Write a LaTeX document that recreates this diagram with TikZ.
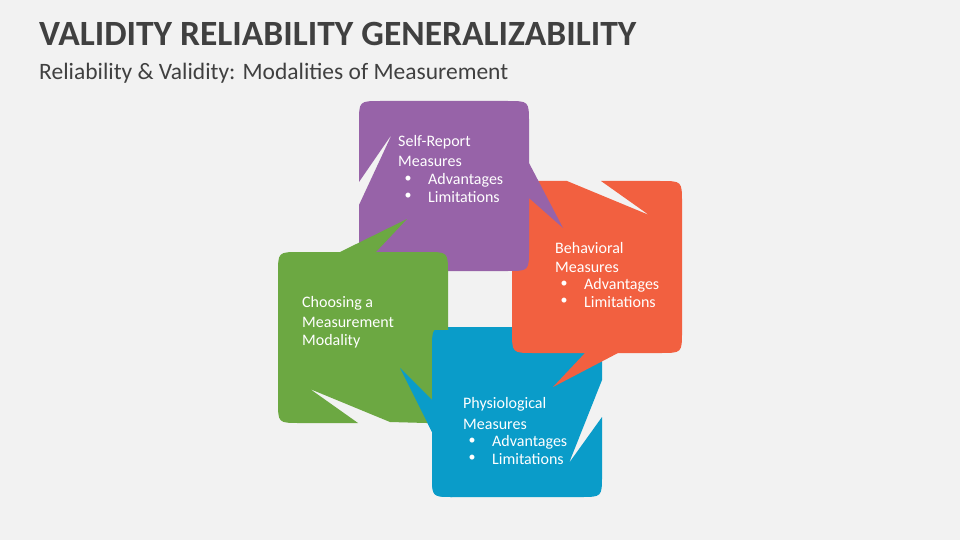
\documentclass[tikz,border=0pt]{standalone}
\usepackage{fontspec}
\setmainfont{Carlito}
\definecolor{bg}{HTML}{F2F2F2}
\definecolor{cpur}{HTML}{9763A8}
\definecolor{cora}{HTML}{F26040}
\definecolor{cgre}{HTML}{6CA842}
\definecolor{cblu}{HTML}{0A9CC9}
\definecolor{ctit}{HTML}{404040}
\begin{document}
\begin{tikzpicture}[x=1pt,y=-1pt,
  lbl/.style={anchor=west,text=white,font=\fontsize{16}{18}\selectfont,inner sep=0pt},
  bul/.style={anchor=center,text=white,font=\fontsize{14}{16}\selectfont,inner sep=0pt}]
\fill[bg] (0,0) rectangle (960,540);
\useasboundingbox (0,0) rectangle (960,540);
\node[anchor=west,text=ctit,font=\bfseries\fontsize{35.5}{38}\selectfont,inner sep=0pt] (title) at (39,34) {VALIDITY RELIABILITY GENERALIZABILITY};
\node[anchor=west,text=ctit,font=\fontsize{23.5}{26}\selectfont,inner sep=0pt] (sub) at (39,73) {Reliability \& Validity: Modalities of Measurement};
\def\bluepath{(432,349) .. controls (432,327) .. (454,327) -- (580,327) .. controls (602,327) .. (602,349) -- (602,380) -- (569,463) -- (602,417) -- (602,475) .. controls (602,497) .. (580,497) -- (454,497) .. controls (432,497) .. (432,475) -- (432,432) -- (400,368) -- (432,400) -- cycle}
\fill[cblu] \bluepath;
\fill[cora] (512,203) .. controls (512,181) .. (534,181) -- (567,181) -- (649,215) -- (601,181) -- (660,181) .. controls (682,181) .. (682,203) -- (682,331) .. controls (682,353) .. (660,353) -- (618,353) -- (553,387) -- (585,353) -- (534,353) .. controls (512,353) .. (512,331) -- cycle;
\fill[cpur] (359,123) .. controls (359,101) .. (381,101) -- (507,101) .. controls (529,101) .. (529,123) -- (529,163) -- (563,228) -- (529,198) -- (529,249) .. controls (529,271) .. (507,271) -- (381,271) .. controls (359,271) .. (359,249) -- (359,205) -- (392,134) -- (359,182) -- cycle;
\fill[cgre] (278,274) .. controls (278,252) .. (300,252) -- (340,252) -- (407,219) -- (376,252) -- (426,252) .. controls (448,252) .. (448,274) -- (448,401) .. controls (448,423) .. (426,423) -- (390,422) -- (310,389) -- (358,423) -- (300,423) .. controls (278,423) .. (278,401) -- cycle;
\begin{scope}
\clip (380,330) rectangle (452,500);
\fill[cblu] \bluepath;
\end{scope}
% purple text
\node[lbl] (p1) at (398,142) {Self-Report};
\node[lbl] (p2) at (398,161) {Measures};
\node[bul] (pb1) at (408,179) {•};
\node[lbl] (pa) at (428,180) {Advantages};
\node[bul] (pb2) at (408,196) {•};
\node[lbl] (pl) at (428,197) {Limitations};
% orange text
\node[lbl] (o1) at (555,248) {Behavioral};
\node[lbl] (o2) at (555,267) {Measures};
\node[bul] (ob1) at (564,284) {•};
\node[lbl] (oa) at (584,285) {Advantages};
\node[bul] (ob2) at (564,301) {•};
\node[lbl] (ol) at (584,302) {Limitations};
% green text
\node[lbl] (g1) at (302,303) {Choosing a};
\node[lbl] (g2) at (302,322) {Measurement};
\node[lbl] (g3) at (302,341) {Modality};
% blue text
\node[lbl] (b1) at (463,404) {Physiological};
\node[lbl] (b2) at (463,424) {Measures};
\node[bul] (bb1) at (472,441) {•};
\node[lbl] (ba) at (492,442) {Advantages};
\node[bul] (bb2) at (472,458) {•};
\node[lbl] (bl) at (492,459) {Limitations};
\end{tikzpicture}
\end{document}
